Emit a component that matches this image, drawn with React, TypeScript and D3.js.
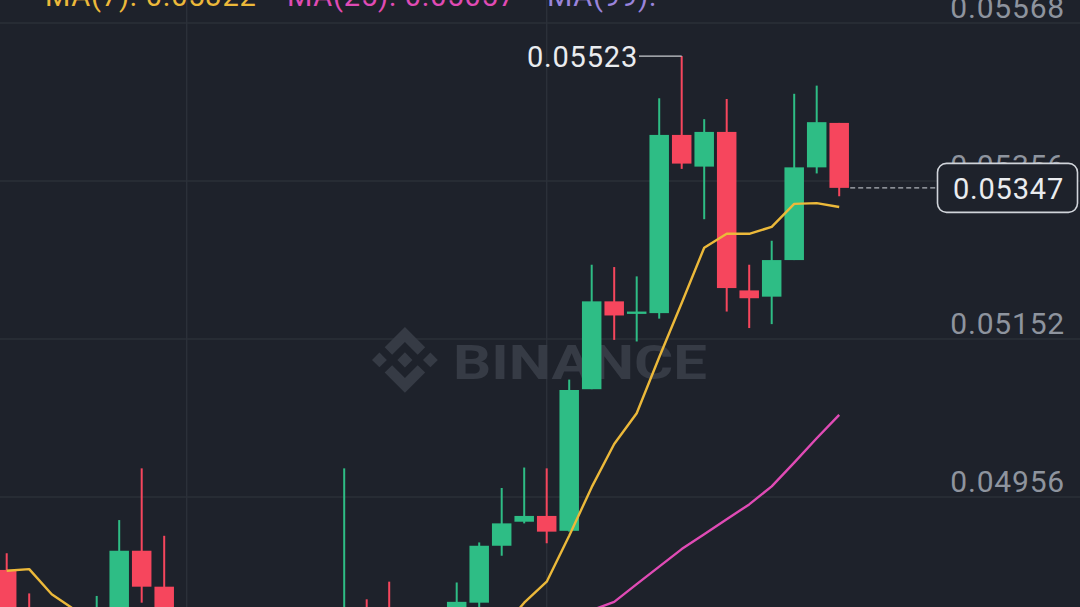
import React from "react";
import * as d3 from "d3";

// ---- data ----
const opens = [0.04868, 0.04810, 0.04780, 0.04770, 0.04760, 0.04790, 0.04891, 0.04848, 0.04790, 0.04760, 0.04775, 0.04755, 0.04770, 0.04750, 0.04760, 0.04745, 0.04795, 0.04775, 0.04765, 0.04785, 0.04795, 0.04829, 0.04897, 0.04926, 0.04933, 0.04915, 0.05089, 0.05200, 0.05184, 0.05185, 0.05417, 0.05375, 0.05421, 0.05214, 0.05206, 0.05253, 0.05374, 0.05433];
const highs = [0.04888, 0.04840, 0.04800, 0.04795, 0.04837, 0.04928, 0.04991, 0.04909, 0.04805, 0.04790, 0.04800, 0.04785, 0.04790, 0.04780, 0.04790, 0.04991, 0.04833, 0.04854, 0.04800, 0.04810, 0.04853, 0.04901, 0.04967, 0.04992, 0.04991, 0.05101, 0.05247, 0.05244, 0.05232, 0.05466, 0.05523, 0.05438, 0.05465, 0.05247, 0.05278, 0.05472, 0.05483, 0.05433];
const lows = [0.04770, 0.04765, 0.04750, 0.04740, 0.04750, 0.04785, 0.04829, 0.04770, 0.04750, 0.04740, 0.04745, 0.04730, 0.04740, 0.04725, 0.04735, 0.04735, 0.04760, 0.04755, 0.04745, 0.04765, 0.04785, 0.04815, 0.04885, 0.04924, 0.04900, 0.04914, 0.05089, 0.05151, 0.05149, 0.05178, 0.05372, 0.05306, 0.05187, 0.05166, 0.05171, 0.05253, 0.05366, 0.05336];
const closes = [0.04790, 0.04780, 0.04770, 0.04760, 0.04790, 0.04891, 0.04848, 0.04790, 0.04760, 0.04775, 0.04755, 0.04770, 0.04750, 0.04760, 0.04745, 0.04795, 0.04775, 0.04765, 0.04785, 0.04795, 0.04830, 0.04897, 0.04924, 0.04933, 0.04914, 0.05088, 0.05200, 0.05182, 0.05187, 0.05417, 0.05379, 0.05421, 0.05217, 0.05204, 0.05253, 0.05374, 0.05434, 0.05347];
const ma7 = [0.04867, 0.04869, 0.04839, 0.04821, 0.04805, 0.04795, 0.04792, 0.04790, 0.04785, 0.04778, 0.04770, 0.04765, 0.04760, 0.04757, 0.04755, 0.04758, 0.04762, 0.04765, 0.04768, 0.04772, 0.04778, 0.04786, 0.04797, 0.04829, 0.04854, 0.04909, 0.04968, 0.05021, 0.05059, 0.05129, 0.05198, 0.05269, 0.05287, 0.05287, 0.05296, 0.05326, 0.05327, 0.05322];
const ma25: (number | null)[] = [null, null, null, null, null, null, null, null, null, null, null, null, null, null, null, null, null, null, null, null, 0.04775, 0.04785, 0.04793, 0.04800, 0.04808, 0.04814, 0.04820, 0.04830, 0.04851, 0.04872, 0.04893, 0.04911, 0.04929, 0.04947, 0.04969, 0.04998, 0.05028, 0.05057];
const priceTicks = [0.05568, 0.05356, 0.05152, 0.04956];
const gridCandles = [8, 24];
const highMark = { index: 30, value: 0.05523 };
const lastPrice = 0.05347;

const BG = "#1e222b";
const GRID = "#2b3039";
const UP = "#2ebd85";
const DOWN = "#f6465d";
const AXIS_TEXT = "#8e949e";
const MA7C = "#ecb93a";
const MA25C = "#e04bb5";
const MA99C = "#9a84dc";
const FONT = "Roboto, 'Noto Sans', sans-serif";
const LS = 0.8;

const fmt = (v: number) => v.toFixed(5);

export default function App() {
  const W = 1080, H = 607;
  const n = opens.length;
  const x = d3.scaleLinear().domain([0, n - 1]).range([6.7, 839.2]);
  const y = d3.scaleLog().domain([0.04956, 0.05568]).range([497, 23]);
  const bodyW = 19.5;

  const line = d3
    .line<number | null>()
    .defined((d) => d != null)
    .x((_, i) => x(i))
    .y((d) => y(d as number));

  const lastY = y(lastPrice);
  const hiX = x(highMark.index);
  const hiY = y(highMark.value);

  return (
    <svg
      width={W}
      height={H}
      style={{ position: "fixed", left: 0, top: 0, display: "block" }}
      fontFamily={FONT}
    >
      <rect x={0} y={0} width={W} height={H} fill={BG} />
      {/* grid */}
      {priceTicks.map((t) => (
        <line key={"h" + t} x1={0} x2={W} y1={y(t)} y2={y(t)} stroke={GRID} strokeWidth={1.5} />
      ))}
      {gridCandles.map((c) => (
        <line key={"v" + c} x1={x(c)} x2={x(c)} y1={0} y2={H} stroke={GRID} strokeWidth={1.5} />
      ))}

      {/* watermark */}
      <g fill="#363b45">
        <g transform="translate(372,327) scale(0.52)">
          <path d="M38.73,53.2 L63.31,28.63 L87.9,53.22 L102.2,38.92 L63.31,0 L24.43,38.9 Z" />
          <path d="M0,63.31 L14.3,49.01 L28.6,63.31 L14.3,77.61 Z" />
          <path d="M38.73,73.42 L63.31,98 L87.9,73.41 L102.21,87.7 L63.31,126.61 L24.42,87.72 Z" />
          <path d="M98,63.31 L112.3,49.01 L126.6,63.31 L112.3,77.61 Z" />
          <path d="M77.83,63.3 L63.31,48.77 L48.8,63.27 L63.31,77.78 Z" />
        </g>
        <text x={453} y={378.5} fontSize={49} fontWeight={700} textLength={254} lengthAdjust="spacingAndGlyphs">
          BINANCE
        </text>
      </g>

      {/* candles */}
      {opens.map((o, i) => {
        const c = closes[i];
        const up = c >= o;
        const col = up ? UP : DOWN;
        const top = y(Math.max(o, c));
        const bot = y(Math.min(o, c));
        return (
          <g key={"c" + i}>
            <line x1={x(i)} x2={x(i)} y1={y(highs[i])} y2={y(lows[i])} stroke={col} strokeWidth={2} />
            <rect x={x(i) - bodyW / 2} y={top} width={bodyW} height={Math.max(1.5, bot - top)} fill={col} />
          </g>
        );
      })}

      {/* moving averages */}
      <path d={line(ma25) || ""} fill="none" stroke={MA25C} strokeWidth={2.4} strokeLinejoin="round" />
      <path d={line(ma7) || ""} fill="none" stroke={MA7C} strokeWidth={2.4} strokeLinejoin="round" />

      {/* legend (clipped at the top edge) */}
      <g fontSize={29} letterSpacing={LS}>
        <text x={45} y={6} fill={MA7C}>{`MA(7): ${fmt(ma7[n - 1])}`}</text>
        <text x={287} y={6} fill={MA25C}>{`MA(25): ${fmt(ma25[n - 1] as number)}`}</text>
        <text x={547} y={6} fill={MA99C}>MA(99):</text>
      </g>

      {/* price axis labels */}
      {priceTicks.map((t) => (
        <text key={"t" + t} x={1065} y={y(t) - 5.5} textAnchor="end" fontSize={30} fill={AXIS_TEXT} letterSpacing={LS}>
          {fmt(t)}
        </text>
      ))}

      {/* high marker */}
      <line x1={639} x2={hiX} y1={hiY} y2={hiY} stroke="#c9ccd1" strokeWidth={1.2} />
      <text x={638} y={hiY + 11} textAnchor="end" fontSize={29} fill="#eaecef" letterSpacing={LS}>
        {fmt(highMark.value)}
      </text>

      {/* last price */}
      <line x1={x(n - 1) + 11} x2={937} y1={lastY} y2={lastY} stroke="#aeb3ba" strokeWidth={1.2} strokeDasharray="5 3" />
      <rect x={937.5} y={lastY - 24.5} width={140} height={49} rx={9} fill={BG} stroke="#d0d4da" strokeWidth={1.6} />
      <text x={1064} y={lastY + 11} textAnchor="end" fontSize={29} fill="#eaecef" letterSpacing={LS}>
        {fmt(lastPrice)}
      </text>
    </svg>
  );
}
